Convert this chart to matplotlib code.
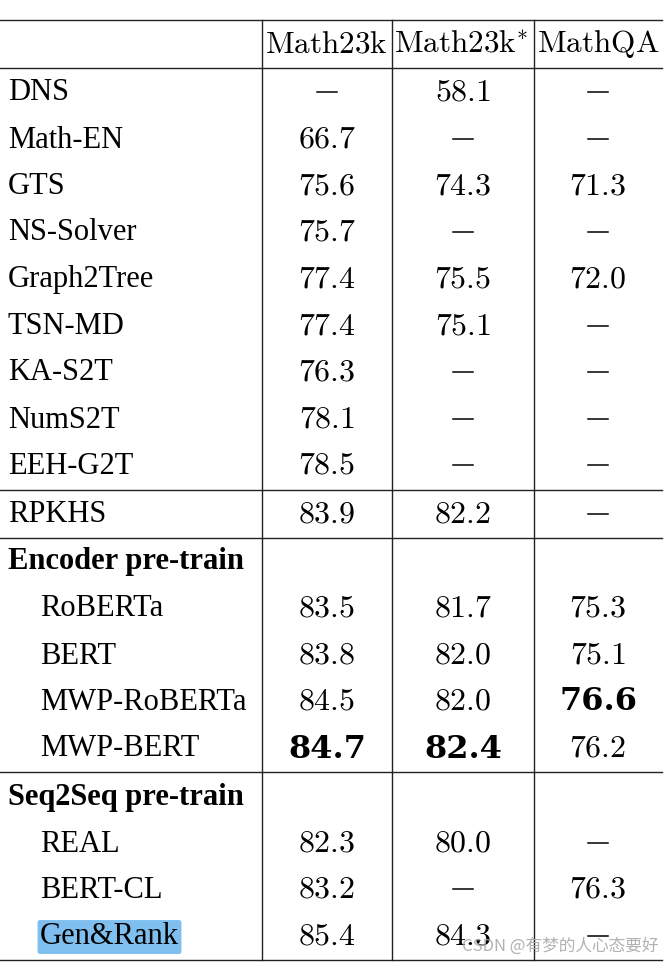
import matplotlib
matplotlib.use("Agg")
import matplotlib.pyplot as plt

plt.rcParams['mathtext.fontset'] = 'cm'

headers = [r'$\mathrm{Math23k}$', r'$\mathrm{Math23k}^{*}$', r'$\mathrm{MathQA}$']
rows = [
    ("DNS", "–", "58.1", "–"),
    ("Math-EN", "66.7", "–", "–"),
    ("GTS", "75.6", "74.3", "71.3"),
    ("NS-Solver", "75.7", "–", "–"),
    ("Graph2Tree", "77.4", "75.5", "72.0"),
    ("TSN-MD", "77.4", "75.1", "–"),
    ("KA-S2T", "76.3", "–", "–"),
    ("NumS2T", "78.1", "–", "–"),
    ("EEH-G2T", "78.5", "–", "–"),
    ("RPKHS", "83.9", "82.2", "–"),
    ("Encoder pre-train", None, None, None),
    ("RoBERTa", "83.5", "81.7", "75.3"),
    ("BERT", "83.8", "82.0", "75.1"),
    ("MWP-RoBERTa", "84.5", "82.0", "76.6"),
    ("MWP-BERT", "84.7", "82.4", "76.2"),
    ("Seq2Seq pre-train", None, None, None),
    ("REAL", "82.3", "80.0", "–"),
    ("BERT-CL", "83.2", "–", "76.3"),
    ("Gen&Rank", "85.4", "84.3", "–"),
]
indented = {"RoBERTa", "BERT", "MWP-RoBERTa", "MWP-BERT", "REAL", "BERT-CL", "Gen&Rank"}
bold_cells = {("MWP-RoBERTa", 3), ("MWP-BERT", 1), ("MWP-BERT", 2)}

W, H = 672, 967
fig = plt.figure(figsize=(W/100, H/100), dpi=100)
ax = fig.add_axes([0, 0, 1, 1])
ax.set_xlim(0, W); ax.set_ylim(H, 0); ax.axis('off')

lc = '#222222'
for y in [20, 68, 490, 538, 772, 960]:
    ax.plot([0, 662], [y, y], color=lc, lw=1)
for x in [262, 392, 534]:
    ax.plot([x, x], [20, 960], color=lc, lw=1)

fs = 23
colx = [327, 463, 598]
hx = [326, 461, 598]
for x, h in zip(hx, headers):
    ax.text(x, 44, h, ha='center', va='center', fontsize=fs - 0.5)

row_y = [92, 139, 186, 232, 279, 326, 372, 419, 465, 514, 561, 608, 655, 701, 748, 797, 843, 889, 936]
for y, r in zip(row_y, rows):
    name = r[0]
    if r[1] is None:
        ax.text(8, y + 1, name, ha='left', va='center', fontsize=fs - 1,
                family='Liberation Serif', weight='bold')
        continue
    x0 = 40 if name in indented else 8
    kw = {}
    if name == "Gen&Rank":
        kw['bbox'] = dict(boxstyle='round,pad=0.08', fc='#7fbff0', ec='none')
    ax.text(x0, y + 1, name, ha='left', va='center', fontsize=fs - 1,
            family='Liberation Serif', **kw)
    for j in range(1, 4):
        v = r[j]
        if v == "–":
            ax.plot([colx[j-1] - 10, colx[j-1] + 10], [y, y], color='black', lw=1.1)
        elif (name, j) in bold_cells:
            ax.text(colx[j-1], y + 1, v, ha='center', va='center', fontsize=fs,
                    family='DejaVu Serif', weight='bold')
        else:
            ax.text(colx[j-1], y, r'$\mathrm{%s}$' % v, ha='center', va='center', fontsize=fs)

ax.text(658, 946, "CSDN @有梦的人心态要好", ha='right', va='center', fontsize=12,
        color='#aaaaaa', alpha=0.9, family=['Noto Sans CJK SC', 'DejaVu Sans'])

fig.savefig("out.png", dpi=100, facecolor='white')
